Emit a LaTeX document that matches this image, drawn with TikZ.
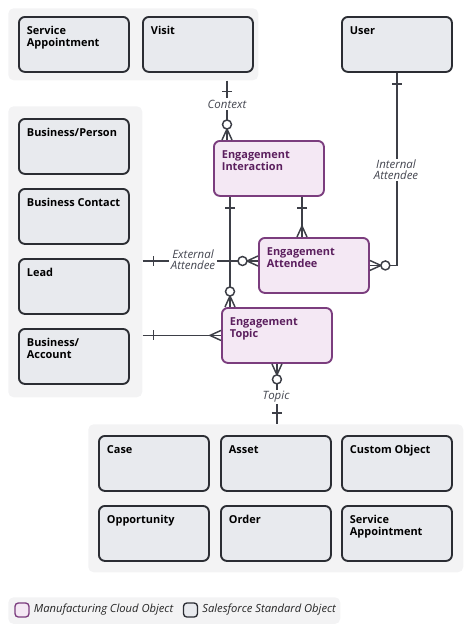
\documentclass[tikz,border=0pt]{standalone}
\usepackage{fontspec}
\setmainfont{Open Sans}
\usetikzlibrary{positioning}

\definecolor{grpbg}{HTML}{F3F3F4}
\definecolor{boxfill}{HTML}{E8EAEE}
\definecolor{boxedge}{HTML}{2B2D33}
\definecolor{mfgfill}{HTML}{F4E8F4}
\definecolor{mfgedge}{HTML}{7B3D7E}
\definecolor{mfgtext}{HTML}{5B1F5E}
\definecolor{linegray}{HTML}{3D3F47}
\definecolor{labelgray}{HTML}{444650}

\newcommand{\objname}[1]{\parbox[t][28.25pt][t]{70.5pt}{%
  \renewcommand{\arraystretch}{0.92}\begin{tabular}[t]{@{}l@{}}#1\end{tabular}}}

\tikzset{
  conn/.style={draw=linegray, line width=1.1pt},
  grp/.style={fill=grpbg, rounded corners=4pt, inner sep=0pt, anchor=north west},
  sfobj/.style={draw=boxedge, fill=boxfill, line width=1.4pt, rounded corners=4.5pt,
    anchor=north west, inner xsep=6pt, inner ysep=6.5pt, text=black,
    font=\bfseries\fontsize{8.2}{10}\selectfont},
  mfgobj/.style={sfobj, draw=mfgedge, fill=mfgfill, text=mfgtext},
  rel/.style={fill=white, inner sep=1pt, align=center, text=labelgray,
    font=\itshape\fontsize{8.6}{8}\selectfont},
  keybox/.style={draw=boxedge, fill=boxfill, line width=1pt, rounded corners=2.5pt,
    minimum size=10.5pt, inner sep=0pt},
  keytext/.style={font=\itshape\fontsize{8.4}{9}\selectfont, text=black!85, inner sep=0pt},
  crow/.pic={\draw[conn] (-5,0) -- (0,-11) -- (5,0);},
  ring/.pic={\draw[conn, fill=white] (0,-15.5) circle[radius=4.5];},
  tick/.pic={\draw[conn] (-5,-11) -- (5,-11);}
}

\begin{document}
\begin{tikzpicture}[x=0.75pt, y=-0.75pt]
\useasboundingbox (0,0) rectangle (474,628);

% groups
\node[grp, minimum width=187.5pt, minimum height=54pt] (topgrp) at (8,8) {};
\node[grp, minimum width=100.5pt, minimum height=218.25pt] (leftgrp) at (8,106) {};
\node[grp, minimum width=281.25pt, minimum height=111pt] (botgrp) at (88,424) {};
\node[grp, minimum width=249pt, minimum height=20pt] (legend) at (8,597) {};

% standard objects
\node[sfobj] (svcappt) at (18,16) {\objname{Service\\Appointment}};
\node[sfobj] (visit) at (142,16) {\objname{Visit}};
\node[sfobj] (user) at (341,16) {\objname{User}};
\node[sfobj] (bizperson) at (18,118) {\objname{Business/Person}};
\node[sfobj] (bizcontact) at (18,188) {\objname{Business Contact}};
\node[sfobj] (lead) at (18,258) {\objname{Lead}};
\node[sfobj] (bizaccount) at (18,328) {\objname{Business/\\Account}};
\node[sfobj] (case) at (98,435) {\objname{Case}};
\node[sfobj] (asset) at (220,435) {\objname{Asset}};
\node[sfobj] (custobj) at (341,435) {\objname{Custom Object}};
\node[sfobj] (oppty) at (98,505) {\objname{Opportunity}};
\node[sfobj] (order) at (220,505) {\objname{Order}};
\node[sfobj] (svcappt2) at (341,505) {\objname{Service\\Appointment}};

% manufacturing objects
\node[mfgobj] (engint) at (213,140) {\objname{Engagement\\Interaction}};
\node[mfgobj] (engatt) at (258,237) {\objname{Engagement\\Attendee}};
\node[mfgobj] (engtopic) at (221,307) {\objname{Engagement\\Topic}};

\coordinate (ctx) at (227,0);
\coordinate (toatt) at (302,0);
\coordinate (totopic) at (230,0);
\coordinate (extrow) at (0,261);

% context
\draw[conn] (topgrp.south -| ctx) -- (engint.north -| ctx);
\pic[rotate=180] at (topgrp.south -| ctx) {tick};
\pic at (engint.north -| ctx) {crow};
\pic at (engint.north -| ctx) {ring};
\node[rel] (lblctx) at (227,104) {Context};

% internal attendee
\draw[conn] (user.south) |- (engatt.east);
\pic[rotate=180] at (user.south) {tick};
\pic[rotate=-90] at (engatt.east) {crow};
\pic[rotate=-90] at (engatt.east) {ring};
\node[rel] (lblint) at (396,170) {Internal\\Attendee};

% interaction to attendee / topic
\draw[conn] (engint.south -| toatt) -- (engatt.north -| toatt);
\pic[rotate=180] at (engint.south -| toatt) {tick};
\pic at (engatt.north -| toatt) {crow};
\draw[conn] (engint.south -| totopic) -- (engtopic.north -| totopic);
\pic[rotate=180] at (engint.south -| totopic) {tick};
\pic at (engtopic.north -| totopic) {crow};
\pic at (engtopic.north -| totopic) {ring};

% external attendee
\draw[conn] (leftgrp.east |- extrow) -- (engatt.west |- extrow);
\pic[rotate=-90] at (leftgrp.east |- extrow) {tick};
\pic[rotate=90] at (engatt.west |- extrow) {crow};
\pic[rotate=90] at (engatt.west |- extrow) {ring};
\node[rel] (lblext) at (193,260) {External\\Attendee};

% account to topic
\draw[conn] (leftgrp.east |- engtopic.west) -- (engtopic.west);
\pic[rotate=-90] at (leftgrp.east |- engtopic.west) {tick};
\pic[rotate=90] at (engtopic.west) {crow};

% topic
\draw[conn] (engtopic.south) -- (engtopic.south |- botgrp.north);
\pic[rotate=180] at (engtopic.south) {crow};
\pic[rotate=180] at (engtopic.south) {ring};
\pic at (engtopic.south |- botgrp.north) {tick};
\node[rel] (lbltopic) at (276,397) {Topic};

% legend
\node[keybox, draw=mfgedge, fill=mfgfill] (keymfg) at (22,610) {};
\node[keytext, right=3pt of keymfg] (txtmfg) {Manufacturing Cloud Object};
\node[keybox] (keysf) at (190.5,610) {};
\node[keytext, right=3pt of keysf] (txtsf) {Salesforce Standard Object};
\end{tikzpicture}
\end{document}
